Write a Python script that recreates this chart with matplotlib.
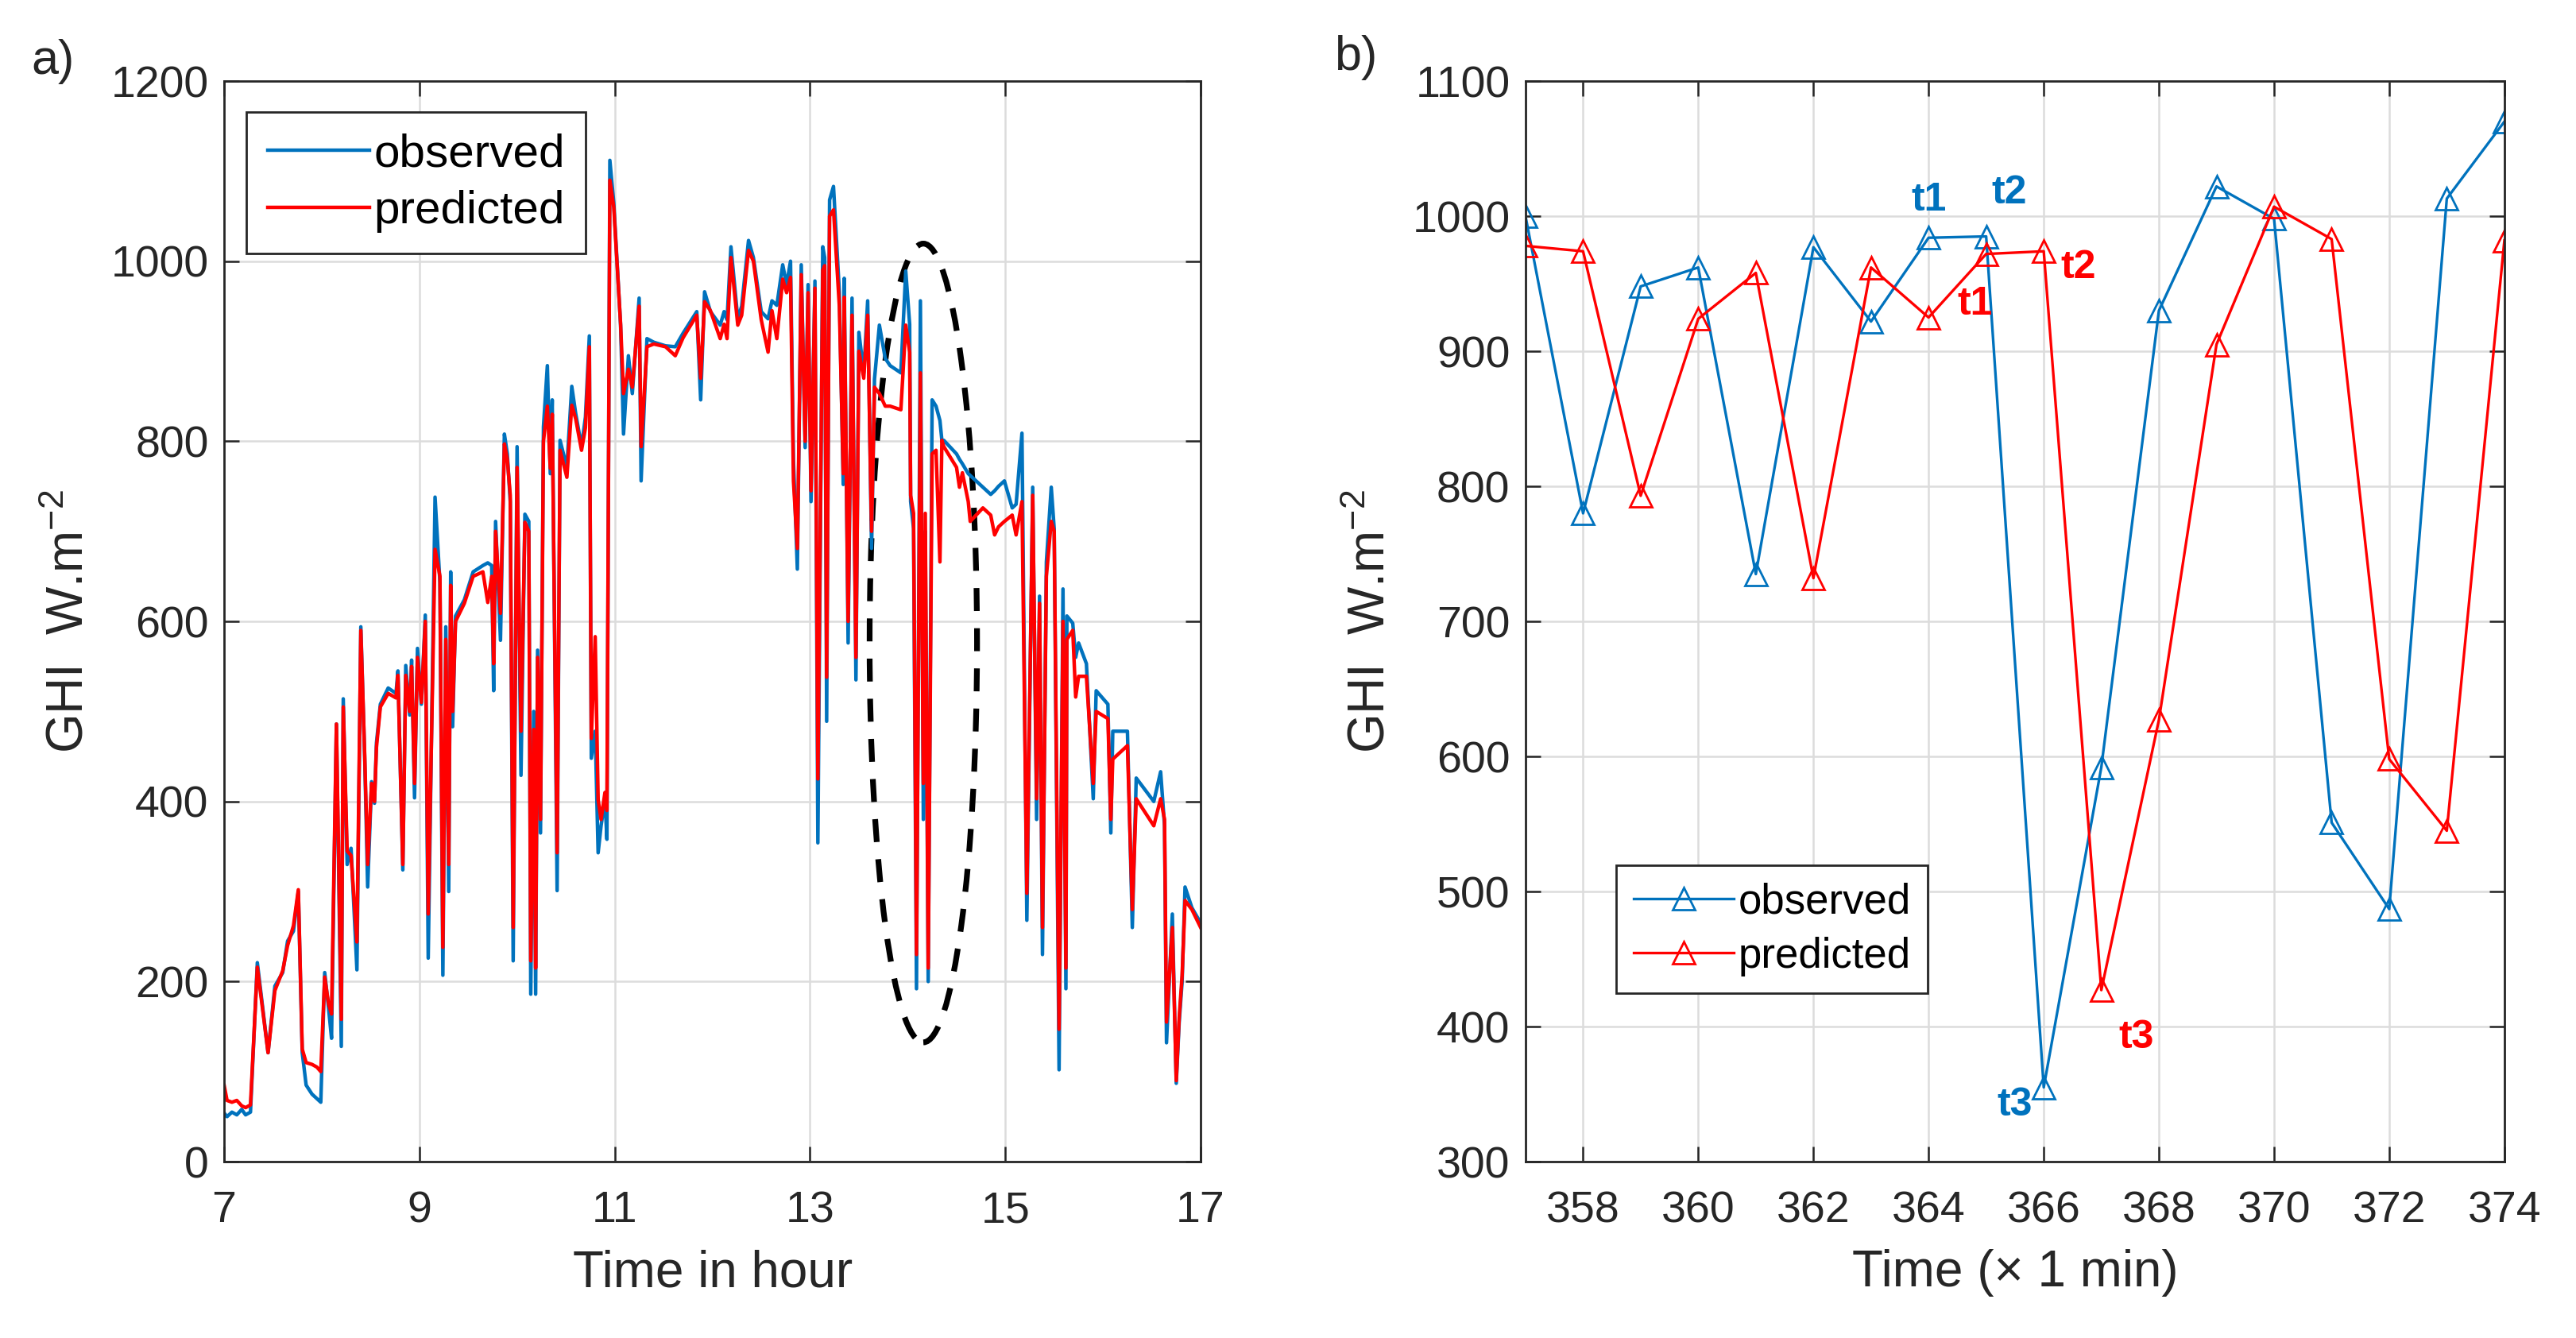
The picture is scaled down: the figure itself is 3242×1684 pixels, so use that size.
import matplotlib
matplotlib.use("Agg")
import matplotlib.pyplot as plt
from matplotlib.patches import Ellipse

plt.rcParams['font.family'] = ['Liberation Sans', 'DejaVu Sans']
plt.rcParams['mathtext.fontset'] = 'custom'
plt.rcParams['mathtext.rm'] = 'Liberation Sans'

BLUE = '#0072BD'
RED = '#FF0000'
DARK = '#262626'

# ---- panel a): whole day, hours ----
hours = [
    7.00, 7.03, 7.08, 7.13, 7.18, 7.22, 7.27, 7.34, 7.45, 7.52, 7.60, 7.65, 7.71, 7.76,
    7.80, 7.84, 7.90, 7.95, 7.99, 8.03, 8.07, 8.10, 8.15, 8.20, 8.22, 8.26, 8.30, 8.36,
    8.40, 8.44, 8.47, 8.51, 8.54, 8.56, 8.60, 8.68, 8.76, 8.78, 8.83, 8.86, 8.90, 8.92,
    8.95, 8.98, 9.02, 9.06, 9.09, 9.16, 9.21, 9.24, 9.27, 9.30, 9.32, 9.34, 9.37, 9.46,
    9.55, 9.65, 9.70, 9.74, 9.76, 9.78, 9.83, 9.87, 9.90, 9.93, 9.96, 10.00, 10.04, 10.08,
    10.12, 10.14, 10.17, 10.19, 10.21, 10.24, 10.27, 10.31, 10.34, 10.36, 10.41, 10.44,
    10.51, 10.56, 10.60, 10.66, 10.70, 10.74, 10.76, 10.80, 10.83, 10.86, 10.90, 10.92,
    10.95, 10.99, 11.06, 11.09, 11.14, 11.18, 11.25, 11.27, 11.33, 11.40, 11.52, 11.62,
    11.70, 11.84, 11.88, 11.92, 11.98, 12.08, 12.12, 12.15, 12.19, 12.26, 12.30, 12.37,
    12.42, 12.50, 12.57, 12.61, 12.66, 12.72, 12.76, 12.80, 12.83, 12.87, 12.91, 12.95,
    12.98, 13.01, 13.05, 13.08, 13.13, 13.15, 13.17, 13.20, 13.24, 13.30, 13.34, 13.35,
    13.39, 13.43, 13.47, 13.50, 13.55, 13.59, 13.63, 13.66, 13.71, 13.77, 13.82, 13.93,
    13.98, 14.02, 14.03, 14.06, 14.09, 14.13, 14.16, 14.18, 14.21, 14.25, 14.29, 14.33,
    14.35, 14.37, 14.50, 14.53, 14.56, 14.62, 14.64, 14.77, 14.85, 14.89, 14.93, 14.99,
    15.07, 15.11, 15.17, 15.22, 15.28, 15.32, 15.35, 15.38, 15.42, 15.47, 15.50, 15.55,
    15.59, 15.62, 15.63, 15.69, 15.72, 15.75, 15.83, 15.90, 15.93, 16.05, 16.08, 16.10,
    16.25, 16.30, 16.34, 16.52, 16.59, 16.63, 16.65, 16.71, 16.75, 16.78, 16.81, 16.84,
    16.91, 17.00,
]
observed_day = [
    54, 50, 55, 52, 58, 52, 55, 221, 121, 195, 210, 245, 256, 300,
    121, 85, 75, 70, 66, 210, 170, 137, 486, 128, 514, 330, 348, 213,
    594, 447, 305, 422, 398, 465, 508, 526, 520, 545, 324, 551, 496, 557,
    404, 570, 508, 607, 226, 738, 643, 207, 594, 300, 655, 483, 606, 624,
    655, 662, 665, 662, 523, 711, 579, 808, 786, 733, 223, 794, 429, 719,
    711, 186, 500, 186, 568, 365, 816, 884, 764, 846, 301, 801,
    771, 861, 831, 794, 827, 917, 448, 478, 343, 373, 402, 358,
    1112, 1065, 929, 808, 895, 853, 959, 756, 914, 910, 906, 905,
    920, 944, 846, 966, 944, 929, 944, 935, 1016, 936, 950, 1023,
    1004, 944, 936, 956, 951, 996, 974, 1000, 779, 658, 996, 793,
    974, 733, 978, 354, 1016, 1004, 489, 1068, 1083, 966, 752, 981,
    576, 959, 535, 921, 876, 956, 681, 869, 929, 892, 884, 876,
    989, 930, 733, 703, 192, 956, 380, 700, 200, 846, 839, 823,
    801, 801, 786, 780, 775, 764, 762, 749, 741, 745, 750, 756,
    726, 730, 809, 268, 749, 380, 628, 230, 666, 749, 703, 102,
    636, 192, 606, 598, 560, 576, 553, 403, 523, 508, 365, 478,
    478, 260, 426, 400, 433, 373, 132, 275, 87, 155, 200, 305,
    282, 265,
]
predicted_day = [
    85, 68, 66, 68, 62, 60, 63, 216, 121, 190, 212, 240, 262, 302,
    125, 110, 108, 105, 100, 205, 175, 164, 486, 158, 505, 345, 340, 244,
    590, 450, 330, 420, 400, 460, 505, 520, 515, 540, 330, 540, 500, 550,
    420, 560, 510, 600, 275, 680, 650, 238, 580, 330, 640, 500, 600, 620,
    650, 655, 621, 650, 553, 700, 609, 797, 780, 740, 260, 771, 478, 710,
    700, 223, 480, 215, 560, 380, 800, 839, 770, 830, 343, 790,
    760, 840, 825, 790, 815, 905, 470, 583, 402, 380, 410, 390,
    1090, 1060, 930, 853, 880, 860, 950, 794, 905, 908, 905, 895,
    915, 940, 870, 955, 945, 914, 930, 914, 1004, 929, 940, 1012,
    1000, 935, 899, 945, 914, 980, 965, 982, 756, 681, 985, 800,
    965, 745, 970, 425, 990, 995, 538, 1050, 1057, 950, 764, 960,
    600, 940, 560, 900, 870, 940, 700, 860, 853, 839, 839, 835,
    929, 899, 740, 720, 230, 876, 420, 720, 215, 786, 790, 666,
    801, 794, 771, 749, 765, 733, 711, 726, 718, 696, 705, 711,
    718, 696, 733, 298, 740, 403, 620, 260, 650, 711, 700, 147,
    600, 215, 580, 590, 516, 539, 539, 420, 500, 492, 380, 447,
    462, 280, 403, 373, 403, 380, 155, 260, 90, 160, 207, 290,
    280, 260,
]

# ---- panel b): zoom on 18 minutes ----
minutes = [357, 358, 359, 360, 361, 362, 363, 364, 365, 366, 367, 368, 369, 370, 371, 372, 373, 374]
observed_min = [1000, 780, 948, 962, 735, 977, 922, 984, 985, 355, 592, 930, 1022, 998, 551, 487, 1013, 1070]
predicted_min = [978, 974, 793, 924, 958, 732, 962, 925, 972, 974, 427, 627, 905, 1007, 983, 598, 545, 982]

# labels t1..t3 placed next to the points they mark
tags_obs = [('t1', 364.0, 1012), ('t2', 365.4, 1017), ('t3', 365.5, 342)]
tags_pred = [('t1', 364.8, 935), ('t2', 366.6, 962), ('t3', 367.6, 392)]


def style_axes(ax):
    ax.grid(True, color='#dcdcdc', linewidth=0.9)
    ax.set_axisbelow(True)
    ax.tick_params(direction='in', length=7, width=0.9, top=True, right=True,
                   labelsize=20, colors=DARK)
    ax.tick_params(axis='x', pad=13)
    ax.tick_params(axis='y', pad=7)
    for sp in ax.spines.values():
        sp.set_color(DARK)
        sp.set_linewidth(1.0)


fig = plt.figure(figsize=(16.21, 8.42), dpi=200)
ax1 = fig.add_axes([0.0870, 0.1318, 0.3791, 0.8076])
ax2 = fig.add_axes([0.5922, 0.1318, 0.3800, 0.8076])

# panel a
ax1.plot(hours, observed_day, color=BLUE, lw=1.6, label='observed')
ax1.plot(hours, predicted_day, color=RED, lw=1.6, label='predicted')
ax1.add_patch(Ellipse((14.16, 576), 1.1, 887, fill=False, ls=(0, (4, 3)),
                      lw=2.6, color='black'))
ax1.set_xlim(7, 17)
ax1.set_ylim(0, 1200)
ax1.set_xticks([7, 9, 11, 13, 15, 17])
ax1.set_yticks(range(0, 1201, 200))
style_axes(ax1)
ax1.set_xlabel('Time in hour', fontsize=23, color=DARK, labelpad=8)
ax1.set_ylabel('GHI  W.m$^{-2}$', fontsize=23, color=DARK, labelpad=8)
leg1 = ax1.legend(loc='upper left', bbox_to_anchor=(0.023, 0.971), fontsize=21,
                  handlelength=2.2, handletextpad=0.1, borderpad=0.45,
                  labelspacing=0.3, borderaxespad=0, fancybox=False, framealpha=1)
leg1.get_frame().set_edgecolor(DARK)
leg1.get_frame().set_linewidth(1.0)

# panel b
ax2.plot(minutes, observed_min, color=BLUE, lw=1.2, marker='^', ms=10,
         mfc='none', mew=1.0, label='observed')
ax2.plot(minutes, predicted_min, color=RED, lw=1.2, marker='^', ms=10,
         mfc='none', mew=1.0, label='predicted')
for txt, x, y in tags_obs:
    ax2.text(x, y, txt, color=BLUE, fontsize=18, fontweight='bold', ha='center', va='center')
for txt, x, y in tags_pred:
    ax2.text(x, y, txt, color=RED, fontsize=18, fontweight='bold', ha='center', va='center')
ax2.set_xlim(357, 374)
ax2.set_ylim(300, 1100)
ax2.set_xticks(range(358, 375, 2))
ax2.set_yticks(range(300, 1101, 100))
style_axes(ax2)
ax2.set_xlabel('Time (× 1 min)', fontsize=23, color=DARK, labelpad=8)
ax2.set_ylabel('GHI  W.m$^{-2}$', fontsize=23, color=DARK, labelpad=8)
leg2 = ax2.legend(loc='lower left', bbox_to_anchor=(0.093, 0.156), fontsize=19,
                  handlelength=2.4, handletextpad=0.1, borderpad=0.4,
                  labelspacing=0.35, borderaxespad=0, fancybox=False, framealpha=1)
leg2.get_frame().set_edgecolor(DARK)
leg2.get_frame().set_linewidth(1.0)

fig.text(0.012, 0.945, 'a)', fontsize=22, color=DARK)
fig.text(0.518, 0.948, 'b)', fontsize=22, color=DARK)

fig.savefig('out.png', dpi=200)
